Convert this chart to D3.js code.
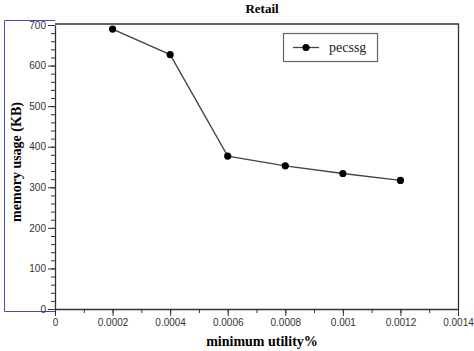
<!DOCTYPE html>
<html>
<head>
<meta charset="utf-8">
<script src="https://cdn.jsdelivr.net/npm/d3@7"></script>
<style>
  body { margin: 0; background: #fff; }
  svg { display: block; }
</style>
</head>
<body>
<svg id="chart"></svg>
<script>
var width = 474, height = 351;

// data
var minUtility = [0.0002, 0.0004, 0.0006, 0.0008, 0.001, 0.0012];
var memoryUsage = [690, 627, 377, 353, 334, 317];
var seriesName = 'pecssg';
var xTicks = [0, 0.0002, 0.0004, 0.0006, 0.0008, 0.001, 0.0012, 0.0014];
var yTicks = [0, 100, 200, 300, 400, 500, 600, 700];

var svg = d3.select('#chart')
	.attr('width', width)
	.attr('height', height);

var margin = {left: 55, right: 16, top: 25, bottom: 42};

var x = d3.scaleLinear()
	.domain([0, 0.0014])
	.range([margin.left, width - margin.right]);

var y = d3.scaleLinear()
	.domain([0, 700])
	.range([height - margin.bottom, margin.top]);

// blue frame on the left
svg.append('path')
	.attr('d', 'M' + margin.left + ',20.5 H4.5 V311.5 H' + margin.left)
	.attr('fill', 'none')
	.attr('stroke', '#4a4aa8')
	.attr('stroke-width', 1);

// top and right borders
svg.append('path')
	.attr('d', 'M' + x(0) + ',' + (y(700) - 1) + ' H' + (x(0.0014) + 0.5) + ' V' + y(0))
	.attr('fill', 'none')
	.attr('stroke', '#333')
	.attr('stroke-width', 1.3);

// minor ticks
var yMinor = d3.axisLeft(y)
	.tickValues(d3.range(0, 701, 20))
	.tickSize(4)
	.tickFormat('');
svg.append('g')
	.attr('transform', 'translate(' + x(0) + ',0)')
	.call(yMinor)
	.call(function(g) { g.select('.domain').remove(); });

var xMinor = d3.axisBottom(x)
	.tickValues(d3.range(0, 15).map(function(d) { return d * 0.0001; }))
	.tickSize(4)
	.tickFormat('');
svg.append('g')
	.attr('transform', 'translate(0,' + y(0) + ')')
	.call(xMinor)
	.call(function(g) { g.select('.domain').remove(); });

// major axes
var yAxis = d3.axisLeft(y)
	.tickValues(yTicks)
	.tickSize(7)
	.tickPadding(2)
	.tickSizeOuter(0);
var gy = svg.append('g')
	.attr('transform', 'translate(' + x(0) + ',0)')
	.call(yAxis);

var xAxis = d3.axisBottom(x)
	.tickValues(xTicks)
	.tickFormat(function(d) { return d === 0 ? '0' : String(+d.toFixed(4)); })
	.tickSize(7)
	.tickPadding(3)
	.tickSizeOuter(0);
var gx = svg.append('g')
	.attr('transform', 'translate(0,' + y(0) + ')')
	.call(xAxis);

svg.selectAll('.tick line').attr('stroke', '#333');
svg.selectAll('.domain').attr('stroke', '#333').attr('stroke-width', 1.3);
svg.selectAll('.tick text')
	.attr('font-family', 'Liberation Sans')
	.attr('font-size', 10)
	.attr('fill', '#333');

// title and axis labels
svg.append('text')
	.attr('x', 262)
	.attr('y', 13)
	.attr('text-anchor', 'middle')
	.attr('font-family', 'Liberation Serif')
	.attr('font-weight', 'bold')
	.attr('font-size', 13)
	.text('Retail');

svg.append('text')
	.attr('x', 262)
	.attr('y', 346)
	.attr('text-anchor', 'middle')
	.attr('font-family', 'Liberation Serif')
	.attr('font-weight', 'bold')
	.attr('font-size', 14)
	.text('minimum utility%');

svg.append('text')
	.attr('transform', 'translate(21,' + 162 + ') rotate(-90)')
	.attr('text-anchor', 'middle')
	.attr('font-family', 'Liberation Serif')
	.attr('font-weight', 'bold')
	.attr('font-size', 14)
	.text('memory usage (KB)');

// the series
var points = minUtility.map(function(d, i) { return [d, memoryUsage[i]]; });

var line = d3.line()
	.x(function(d) { return x(d[0]); })
	.y(function(d) { return y(d[1]); });

svg.append('path')
	.datum(points)
	.attr('d', line)
	.attr('fill', 'none')
	.attr('stroke', '#444')
	.attr('stroke-width', 1.3);

svg.selectAll('.dot')
	.data(points)
	.enter().append('circle')
	.attr('class', 'dot')
	.attr('cx', function(d) { return x(d[0]); })
	.attr('cy', function(d) { return y(d[1]); })
	.attr('r', 3.6)
	.attr('fill', '#000');

// legend
var legend = svg.append('g').attr('transform', 'translate(283,33)');
legend.append('rect')
	.attr('x', 0.5).attr('y', 0.5)
	.attr('width', 94).attr('height', 28)
	.attr('fill', '#fff')
	.attr('stroke', '#666')
	.attr('stroke-width', 1.2);
legend.append('line')
	.attr('x1', 10).attr('x2', 36)
	.attr('y1', 14.5).attr('y2', 14.5)
	.attr('stroke', '#444')
	.attr('stroke-width', 1.3);
legend.append('circle')
	.attr('cx', 23).attr('cy', 14.5)
	.attr('r', 3.6)
	.attr('fill', '#000');
legend.append('text')
	.attr('x', 46).attr('y', 19)
	.attr('font-family', 'Liberation Serif')
	.attr('font-size', 14)
	.attr('fill', '#222')
	.text(seriesName);
</script>
</body>
</html>
